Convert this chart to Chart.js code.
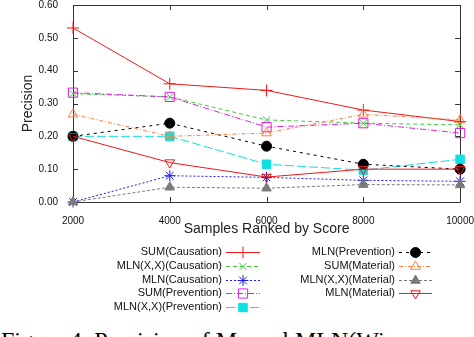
<!DOCTYPE html>
<html><head><meta charset="utf-8">
<script src="https://cdn.jsdelivr.net/npm/chart.js@4/dist/chart.umd.min.js"></script>
<style>
html,body{margin:0;padding:0;background:#fff;width:474px;height:337px;overflow:hidden;position:relative;}
#wrap{position:absolute;left:0;top:-8px;width:479px;height:328px;}
#cap{position:absolute;left:1px;top:328px;font-family:"Liberation Serif","DejaVu Serif",serif;font-size:24px;white-space:nowrap;color:#000;line-height:24px;}
</style></head><body>
<div id="wrap"><canvas id="c" width="479" height="328"></canvas></div>
<div id="cap">Figure 4: Precision of Manual MLN(Wi</div>
<script>
// ---- data ----
const xValues = [2000, 4000, 6000, 8000, 10000];
const yTickValues = [0, 0.1, 0.2, 0.3, 0.4, 0.5, 0.6];
const seriesNames = [
  'SUM(Causation)', 'MLN(X,X)(Causation)', 'MLN(Causation)', 'SUM(Prevention)',
  'MLN(X,X)(Prevention)', 'MLN(Prevention)', 'SUM(Material)', 'MLN(X,X)(Material)', 'MLN(Material)'
];
const sumCausation      = [0.53, 0.36, 0.34, 0.28, 0.245];
const mlnXXCausation    = [0.33, 0.32, 0.25, 0.24, 0.235];
const mlnCausation      = [0.00, 0.08, 0.075, 0.066, 0.063];
const sumPrevention     = [0.333, 0.32, 0.228, 0.24, 0.21];
const mlnXXPrevention   = [0.20, 0.20, 0.115, 0.097, 0.13];
const mlnPrevention     = [0.20, 0.24, 0.17, 0.115, 0.10];
const sumMaterial       = [0.267, 0.20, 0.21, 0.267, 0.25];
const mlnXXMaterial     = [0.00, 0.045, 0.042, 0.053, 0.052];
const mlnMaterial       = [0.20, 0.12, 0.076, 0.10, 0.10];
const seriesValues = [sumCausation, mlnXXCausation, mlnCausation, sumPrevention,
  mlnXXPrevention, mlnPrevention, sumMaterial, mlnXXMaterial, mlnMaterial];

// ---- styles ----
const styles = [
  {c:'#f01818', dash:[],          ps:'cross',    r:6,   fill:false, rot:0},
  {c:'#3ccc3c', dash:[4,3],       ps:'crossRot', r:5,   fill:false, rot:0},
  {c:'#1c1cf0', dash:[2,2],       ps:'star',     r:5.5, fill:false, rot:0},
  {c:'#e020e0', dash:[6,2,1,2],   ps:'rect',     r:6.5, fill:false, rot:0},
  {c:'#10e0e0', dash:[9,3],       ps:'rect',     r:6,   fill:true,  rot:0},
  {c:'#000000', dash:[3,4],       ps:'circle',   r:5,   fill:true,  rot:0},
  {c:'#ff7f40', dash:[4,2,1,2],   ps:'triangle', r:5.5, fill:false, rot:0},
  {c:'#7a7a7a', dash:[3,2],       ps:'triangle', r:5.5, fill:true,  rot:0},
  {c:'#f01818', dash:[],          ps:'triangle', r:5.5, fill:false, rot:180}
];

const datasets = seriesNames.map((name, i) => {
  const s = styles[i];
  return {
    label: name,
    data: xValues.map((x, j) => ({x: x, y: seriesValues[i][j]})),
    borderColor: s.c,
    backgroundColor: s.fill ? s.c : 'rgba(0,0,0,0)',
    borderWidth: 1,
    borderDash: s.dash,
    pointStyle: s.ps,
    pointRadius: s.r,
    pointRotation: s.rot,
    pointBorderColor: s.c,
    pointBackgroundColor: s.fill ? s.c : 'rgba(0,0,0,0)',
    pointBorderWidth: 1,
    tension: 0,
    clip: false,
    order: 20 - i
  };
});

const frameColor = '#333';
const framePlugin = {
  id: 'frame',
  beforeDatasetsDraw(chart) {
    const {ctx, chartArea: a, scales} = chart;
    ctx.save();
    ctx.strokeStyle = frameColor;
    ctx.lineWidth = 1;
    ctx.beginPath();
    ctx.rect(Math.round(a.left) + 0.5, Math.round(a.top) + 0.5,
             Math.round(a.right - a.left), Math.round(a.bottom - a.top));
    const L = 5;
    yTickValues.forEach(v => {
      const y = Math.round(scales.y.getPixelForValue(v)) + 0.5;
      ctx.moveTo(a.left, y); ctx.lineTo(a.left + L, y);
      ctx.moveTo(a.right, y); ctx.lineTo(a.right - L, y);
    });
    xValues.forEach(v => {
      const x = Math.round(scales.x.getPixelForValue(v)) + 0.5;
      ctx.moveTo(x, a.bottom); ctx.lineTo(x, a.bottom - L);
      ctx.moveTo(x, a.top); ctx.lineTo(x, a.top + L);
    });
    ctx.stroke();
    ctx.restore();
  }
};

const legendPlugin = {
  id: 'gpLegend',
  afterDraw(chart) {
    const {ctx} = chart;
    const cols = [{tx: 222, l0: 226, l1: 260}, {tx: 395, l0: 399, l1: 432}];
    ctx.save();
    ctx.font = '11px "Liberation Sans", Arial, sans-serif';
    ctx.textAlign = 'right';
    ctx.textBaseline = 'middle';
    chart.data.datasets.forEach((ds, i) => {
      const col = cols[i < 5 ? 0 : 1];
      const row = i < 5 ? i : i - 5;
      const y = 8 + 252 + row * 13.8;
      ctx.fillStyle = '#111';
      ctx.fillText(ds.label, col.tx, y);
      ctx.save();
      ctx.strokeStyle = ds.borderColor;
      ctx.lineWidth = 1;
      ctx.setLineDash(ds.borderDash);
      ctx.beginPath();
      ctx.moveTo(col.l0, Math.round(y) + 0.5);
      ctx.lineTo(col.l1, Math.round(y) + 0.5);
      ctx.stroke();
      ctx.setLineDash([]);
      ctx.strokeStyle = ds.pointBorderColor;
      ctx.fillStyle = ds.pointBackgroundColor;
      Chart.helpers.drawPoint(ctx, {
        pointStyle: ds.pointStyle, radius: ds.pointRadius,
        rotation: ds.pointRotation, borderWidth: 1
      }, (col.l0 + col.l1) / 2, Math.round(y) + 0.5);
      ctx.restore();
    });
    ctx.restore();
  }
};

const tickFont = {family: '"Liberation Sans", Arial, sans-serif', size: 10};
const titleFont = {family: '"Liberation Sans", Arial, sans-serif', size: 14};

new Chart(document.getElementById('c'), {
  type: 'line',
  data: {datasets: datasets},
  options: {
    responsive: false,
    animation: false,
    devicePixelRatio: 1,
    layout: {padding: {left: 0, right: 0, top: 0, bottom: 82}},
    plugins: {legend: {display: false}, tooltip: {enabled: false}},
    scales: {
      x: {
        type: 'linear', min: 2000, max: 10000,
        afterBuildTicks: s => { s.ticks = xValues.map(v => ({value: v})); },
        afterFit: s => { s.height = 36; },
        grid: {display: false},
        border: {display: false},
        ticks: {font: tickFont, color: '#111', padding: 5, maxRotation: 0, autoSkip: false,
                callback: v => String(v)},
        title: {display: true, text: 'Samples Ranked by Score', font: titleFont, color: '#222', padding: 0}
      },
      y: {
        min: 0, max: 0.6,
        afterBuildTicks: s => { s.ticks = yTickValues.map(v => ({value: v})); },
        afterFit: s => { s.width = 73; },
        grid: {display: false},
        border: {display: false},
        ticks: {font: tickFont, color: '#111', padding: 7, callback: v => v.toFixed(2)},
        title: {display: true, text: 'Precision', font: titleFont, color: '#222', padding: {top: 20, bottom: 0}}
      }
    }
  },
  plugins: [framePlugin, legendPlugin]
});
</script>
</body></html>
